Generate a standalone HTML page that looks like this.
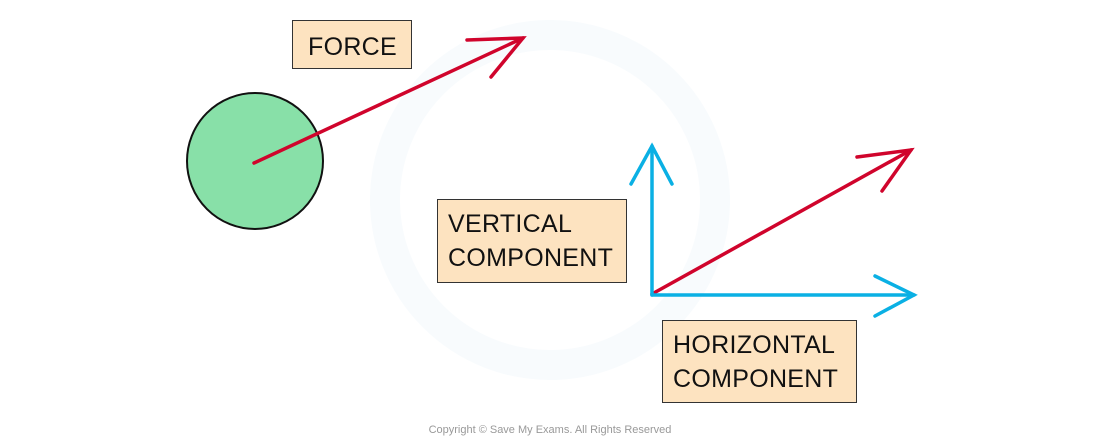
<!DOCTYPE html>
<html><head><style>
body{margin:0;width:1100px;height:441px;background:#fff;position:relative;overflow:hidden;font-family:"Liberation Sans",sans-serif}
.box{position:absolute;background:#fde3c0;border:1.5px solid #333;box-sizing:border-box;color:#111;font-size:25px;line-height:34px;letter-spacing:0.3px}
</style></head><body>
<svg width="1100" height="441" style="position:absolute;left:0;top:0">
<circle cx="550" cy="200" r="165" fill="none" stroke="#f8fbfd" stroke-width="30"/>
<circle cx="255" cy="161" r="68" fill="#88e0a8" stroke="#111" stroke-width="2"/>
<g stroke="#d0042c" stroke-width="3.5" stroke-linecap="round" fill="none">
<line x1="254" y1="163" x2="523" y2="38"/>
<polyline points="467,40 523,38 491,77"/>
<line x1="652" y1="294" x2="911" y2="150"/>
<polyline points="857,157 911,150 882,191"/>
</g>
<g stroke="#0ab0e4" stroke-width="3.5" stroke-linecap="round" fill="none">
<line x1="652" y1="295" x2="652" y2="146"/>
<polyline points="631,184 652,146 672,184"/>
<line x1="652" y1="295" x2="914" y2="295"/>
<polyline points="875,276 914,295 875,316"/>
</g>
</svg>
<div class="box" style="left:292px;top:20px;width:120px;height:49px;padding:9px 0 0 15px">FORCE</div>
<div class="box" style="left:437px;top:199px;width:190px;height:84px;padding:7px 0 0 10px">VERTICAL<br>COMPONENT</div>
<div class="box" style="left:662px;top:320px;width:195px;height:83px;padding:7px 0 0 10px">HORIZONTAL<br>COMPONENT</div>
<div style="position:absolute;left:0;width:1100px;top:424px;text-align:center;font-size:11px;color:#999">Copyright © Save My Exams. All Rights Reserved</div>
</body></html>
